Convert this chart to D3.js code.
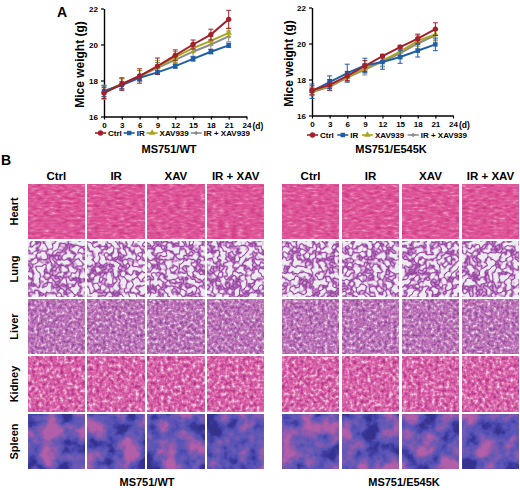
<!DOCTYPE html>
<html><head><meta charset="utf-8">
<script src="https://cdn.jsdelivr.net/npm/d3@7"></script>
<style>
body{margin:0;background:#fff}
text{font-family:"Liberation Sans",Arial,sans-serif;font-weight:bold;fill:#000}
</style></head>
<body><svg id="c" width="520" height="490"></svg>
<script>
// ---------- DATA ----------
const days = [0, 3, 6, 9, 12, 15, 18, 21];
const xTicks = [0, 3, 6, 9, 12, 15, 18, 21, 24];
const yTicks = [16, 18, 20, 22];
const seriesNames = ["Ctrl", "IR", "XAV939", "IR + XAV939"];

const wtCtrl    = [17.3, 17.8, 18.25, 18.8, 19.4, 20.0, 20.55, 21.4];
const wtCtrlSem = [0.3, 0.35, 0.4, 0.45, 0.3, 0.25, 0.3, 0.5];
const wtIR      = [17.4, 17.75, 18.15, 18.45, 18.8, 19.2, 19.6, 19.95];
const wtIRSem   = [0.3, 0.2, 0.15, 0.12, 0.12, 0.12, 0.12, 0.12];
const wtXAV     = [17.4, 17.8, 18.25, 18.75, 19.3, 19.8, 20.2, 20.65];
const wtXAVSem  = [0.3, 0.3, 0.3, 0.35, 0.3, 0.25, 0.25, 0.25];
const wtCombo   = [17.35, 17.8, 18.25, 18.7, 19.15, 19.6, 20.0, 20.45];
const wtComboSem= [0.4, 0.3, 0.3, 0.3, 0.25, 0.25, 0.25, 0.3];

const mutCtrl    = [17.4, 17.7, 18.2, 18.75, 19.3, 19.8, 20.27, 20.8];
const mutCtrlSem = [0.25, 0.3, 0.25, 0.3, 0.1, 0.1, 0.25, 0.35];
const mutIR      = [17.35, 17.85, 18.35, 18.78, 18.97, 19.25, 19.6, 19.95];
const mutIRSem   = [0.4, 0.35, 0.5, 0.4, 0.4, 0.35, 0.35, 0.35];
const mutXAV     = [17.35, 17.65, 18.15, 18.6, 19.05, 19.55, 20.15, 20.5];
const mutXAVSem  = [0.2, 0.25, 0.25, 0.25, 0.3, 0.3, 0.3, 0.3];
const mutCombo   = [17.3, 17.6, 18.1, 18.55, 19.0, 19.45, 20.0, 20.45];
const mutComboSem= [0.2, 0.2, 0.2, 0.3, 0.3, 0.3, 0.3, 0.3];

const tissues = ["Heart", "Lung", "Liver", "Kidney", "Spleen"];
const treatments = ["Ctrl", "IR", "XAV", "IR + XAV"];
const cellLines = ["MS751/WT", "MS751/E545K"];

// ---------- STYLE ----------
const colors = {"Ctrl": "#a3202b", "IR": "#1f5ea8", "XAV939": "#a9a61e", "IR + XAV939": "#8c8c8c"};
const symbols = {"Ctrl": d3.symbolCircle, "IR": d3.symbolSquare, "XAV939": d3.symbolTriangle, "IR + XAV939": d3.symbolCross};
const symSize = {"Ctrl": 22, "IR": 20, "XAV939": 18, "IR + XAV939": 10};

const svg = d3.select("#c");
svg.append("rect").attr("width", 520).attr("height", 490).attr("fill", "#fff");
const defs = svg.append("defs");

function drawChart(opt) {
  const x = d3.scaleLinear().domain([0, 24]).range([opt.x0, opt.x1]);
  const y = d3.scaleLinear().domain([16, 22]).range([opt.yb, opt.yt]);
  const g = svg.append("g");

  const ax = g.append("g").attr("transform", `translate(0,${opt.yb})`)
    .call(d3.axisBottom(x).tickValues(xTicks).tickSize(3).tickSizeOuter(0).tickFormat(d3.format("d")));
  const ay = g.append("g").attr("transform", `translate(${opt.x0},0)`)
    .call(d3.axisLeft(y).tickValues(yTicks).tickSize(3).tickSizeOuter(0).tickFormat(d3.format("d")));
  [ax, ay].forEach(a => {
    a.selectAll("path.domain").attr("stroke", "#000").attr("stroke-width", 1.4);
    a.selectAll(".tick line").attr("stroke", "#000").attr("stroke-width", 1.2);
    a.selectAll("text").style("font-size", "8px").style("font-weight", "bold")
      .style("font-family", '"Liberation Sans",Arial,sans-serif').attr("fill", "#000");
  });
  g.append("text").attr("x", x(24) + 6).attr("y", opt.yb + 12.3).style("font-size", "8.5px").text("(d)");

  g.append("text").attr("transform", `translate(${opt.labelX},${(opt.yt + opt.yb) / 2 + 2}) rotate(-90)`)
    .attr("text-anchor", "middle").style("font-size", "12px").text("Mice weight (g)");

  const order = [3, 2, 1, 0];
  order.forEach(i => {
    const name = seriesNames[i];
    const vals = opt.values[i], sem = opt.sems[i];
    const col = colors[name];
    const pts = days.map((d, k) => ({d, v: vals[k], e: sem[k]}));
    const sg = g.append("g");
    pts.forEach(p => {
      sg.append("line").attr("x1", x(p.d)).attr("x2", x(p.d)).attr("y1", y(p.v - p.e)).attr("y2", y(p.v + p.e))
        .attr("stroke", col).attr("stroke-width", 1);
      [p.v - p.e, p.v + p.e].forEach(v => sg.append("line").attr("x1", x(p.d) - 2.5).attr("x2", x(p.d) + 2.5)
        .attr("y1", y(v)).attr("y2", y(v)).attr("stroke", col).attr("stroke-width", 1));
    });
    sg.append("path").datum(pts).attr("fill", "none").attr("stroke", col).attr("stroke-width", 2)
      .attr("d", d3.line().x(p => x(p.d)).y(p => y(p.v)));
    sg.selectAll("path.m").data(pts).join("path").attr("class", "m")
      .attr("transform", p => `translate(${x(p.d)},${y(p.v)})`)
      .attr("d", d3.symbol().type(symbols[name]).size(symSize[name]))
      .attr("fill", col);
  });

  const lg = g.append("g").attr("transform", `translate(0,${opt.legendY})`);
  const items = seriesNames.map(n => {
    const t = lg.append("text").style("font-size", "8px").text(n);
    return {n, t, w: t.node().getComputedTextLength()};
  });
  const lineW = 11, gapTxt = 2;
  const totalFixed = d3.sum(items, it => lineW + gapTxt + it.w);
  const gap = (opt.legendX1 - opt.legendX0 - totalFixed) / (items.length - 1);
  let cx = opt.legendX0;
  items.forEach(it => {
    const col = colors[it.n];
    lg.append("line").attr("x1", cx).attr("x2", cx + lineW).attr("y1", 0).attr("y2", 0)
      .attr("stroke", col).attr("stroke-width", 1.6);
    lg.append("path").attr("transform", `translate(${cx + lineW / 2},0)`)
      .attr("d", d3.symbol().type(symbols[it.n]).size(symSize[it.n])).attr("fill", col);
    it.t.attr("x", cx + lineW + gapTxt).attr("y", 2.9);
    cx += lineW + gapTxt + it.w + gap;
  });

  g.append("text").attr("x", opt.titleX).attr("y", 153).attr("text-anchor", "middle")
    .style("font-size", "11px").text(opt.title);
}

drawChart({x0: 104, x1: 246.5, yt: 8.5, yb: 116.5, labelX: 84, legendY: 133, legendX0: 95, legendX1: 250,
  titleX: 169, title: cellLines[0],
  values: [wtCtrl, wtIR, wtXAV, wtCombo], sems: [wtCtrlSem, wtIRSem, wtXAVSem, wtComboSem]});
drawChart({x0: 312, x1: 453, yt: 7.5, yb: 115.5, labelX: 293, legendY: 135, legendX0: 307, legendX1: 467,
  titleX: 391, title: cellLines[1],
  values: [mutCtrl, mutIR, mutXAV, mutCombo], sems: [mutCtrlSem, mutIRSem, mutXAVSem, mutComboSem]});

svg.append("text").attr("x", 57).attr("y", 17).style("font-size", "14px").text("A");
svg.append("text").attr("x", 1).attr("y", 165).style("font-size", "14px").text("B");

// ---------- HISTOLOGY PANELS (texture only) ----------
const air = "#ecedf1";
const tissueStyle = {
  Heart:  {freq: "0.16 0.4", oct: 2, s: 1.5, ramp: ["#c8387f", "#d4448c", "#dc5096", "#e05c9d", "#e672a9", "#eea0c4"]},
  Lung:   {freq: "0.15", oct: 2, s: 1.6, ramp: [air, air, air, "#c98fca", "#93409e", "#c98fca", air, air, air]},
  Liver:  {freq: "0.32", oct: 2, s: 1.8, ramp: ["#8c4a9c", "#a65aa8", "#b86bb3", "#c37fbd", "#d3a0cf", "#e8d8ea"]},
  Kidney: {freq: "0.28", oct: 2, s: 1.8, ramp: ["#b03585", "#c84898", "#d458a3", "#dc70b0", "#e698c4", "#f0d0e4"]},
  Spleen: {freq: "0.05", oct: 5, s: 2.3, ramp: ["#35328e", "#423fa5", "#5550b5", "#6258b6", "#7a5ab2", "#9a5aac", "#b160a8"]}
};

function makeFilter(id, st, seed) {
  const f = defs.append("filter").attr("id", id).attr("x", 0).attr("y", 0).attr("width", 1).attr("height", 1)
    .attr("color-interpolation-filters", "sRGB");
  f.append("feTurbulence").attr("type", "fractalNoise").attr("baseFrequency", st.freq)
    .attr("numOctaves", st.oct).attr("seed", seed).attr("result", "n");
  const o = (0.5 - 0.5 * st.s).toFixed(3), s = st.s;
  f.append("feColorMatrix").attr("type", "matrix")
    .attr("values", `${s} 0 0 0 ${o}  ${s} 0 0 0 ${o}  ${s} 0 0 0 ${o}  0 0 0 0 1`);
  const ct = f.append("feComponentTransfer");
  const rgb = st.ramp.map(c => d3.rgb(c));
  ct.append("feFuncR").attr("type", "table").attr("tableValues", rgb.map(c => (c.r / 255).toFixed(3)).join(" "));
  ct.append("feFuncG").attr("type", "table").attr("tableValues", rgb.map(c => (c.g / 255).toFixed(3)).join(" "));
  ct.append("feFuncB").attr("type", "table").attr("tableValues", rgb.map(c => (c.b / 255).toFixed(3)).join(" "));
}

const rowScale = d3.scaleBand().domain(tissues).range([184, 469]).paddingInner(0.045);
const groupRanges = [[28, 264], [282, 519]];
const groupCenters = [147, 404];

cellLines.forEach((cl, gi) => {
  const colScale = d3.scaleBand().domain(treatments).range(groupRanges[gi]).paddingInner(0.05);
  treatments.forEach((t, ci) => {
    svg.append("text").attr("x", colScale(t) + colScale.bandwidth() / 2).attr("y", 180)
      .attr("text-anchor", "middle").style("font-size", "11.5px").text(t);
    tissues.forEach((ts, ri) => {
      const id = `h${gi}${ci}${ri}`;
      makeFilter(id, tissueStyle[ts], 7 + gi * 37 + ci * 11 + ri * 5);
      svg.append("rect").attr("x", colScale(t)).attr("y", rowScale(ts))
        .attr("width", colScale.bandwidth()).attr("height", rowScale.bandwidth())
        .attr("fill", "#d05090").attr("filter", `url(#${id})`);
    });
  });
  svg.append("text").attr("x", groupCenters[gi]).attr("y", 486).attr("text-anchor", "middle")
    .style("font-size", "11px").text(cl);
});

tissues.forEach(ts => {
  svg.append("text").attr("transform", `translate(18,${rowScale(ts) + rowScale.bandwidth() / 2}) rotate(-90)`)
    .attr("text-anchor", "middle").style("font-size", "11px").text(ts);
});
</script></body></html>
